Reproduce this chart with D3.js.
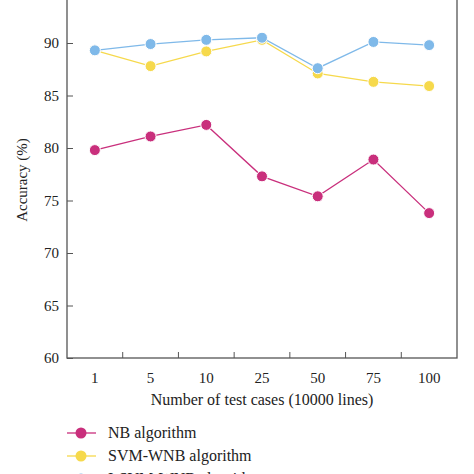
<!DOCTYPE html>
<html><head><meta charset="utf-8">
<script src="https://cdn.jsdelivr.net/npm/d3@7"></script>
<style>body{margin:0;background:#fff}text{font-family:"Liberation Serif",serif;fill:#222}</style>
</head><body>
<svg id="c" width="474" height="474"></svg>
<script>
const categories = ["1", "5", "10", "25", "50", "75", "100"];
const nbValues = [79.8, 81.1, 82.2, 77.3, 75.4, 78.9, 73.8];
const svmValues = [89.3, 87.8, 89.2, 90.3, 87.1, 86.3, 85.9];
const isvmValues = [89.3, 89.9, 90.3, 90.5, 87.6, 90.1, 89.8];
const yTicks = [60, 65, 70, 75, 80, 85, 90];
const series = [
  {name: "NB algorithm", values: nbValues, color: "#c92f7c"},
  {name: "SVM-WNB algorithm", values: svmValues, color: "#f6d94c"},
  {name: "I-SVM-WNB algorithm", values: isvmValues, color: "#7fb9e9"}
];

const mLeft = 67, mRight = 457, mTop = -10, mBottom = 358;
const svg = d3.select("#c");
const x = d3.scaleBand().domain(categories).range([mLeft, mRight]);
const y = d3.scaleLinear().domain([60, 95]).range([mBottom, mBottom - 35 * 10.5]);

svg.append("rect").attr("x", mLeft).attr("y", mTop).attr("width", mRight - mLeft).attr("height", mBottom - mTop)
  .attr("fill", "none").attr("stroke", "#555").attr("stroke-width", 1.3);

const ya = svg.append("g").attr("transform", `translate(${mLeft},0)`)
  .call(d3.axisLeft(y).tickValues(yTicks).tickSize(-6).tickPadding(8));
ya.select(".domain").remove();
ya.selectAll("line").attr("stroke", "#555");
ya.selectAll("text").style("font-size", "15px").style("font-family", "Liberation Serif");

const xa = svg.append("g").attr("transform", `translate(0,${mBottom})`)
  .call(d3.axisBottom(x).tickSize(0).tickPadding(14));
xa.select(".domain").remove();
xa.selectAll("text").style("font-size", "15px").style("font-family", "Liberation Serif");
svg.selectAll(".sep").data(categories.slice(1)).join("line")
  .attr("x1", d => x(d)).attr("x2", d => x(d)).attr("y1", mBottom).attr("y2", mBottom - 6)
  .attr("stroke", "#555");

svg.append("text").attr("x", (mLeft + mRight) / 2).attr("y", 405).attr("text-anchor", "middle")
  .style("font-size", "16px").text("Number of test cases (10000 lines)");
svg.append("text").attr("transform", `translate(27,180) rotate(-90)`).attr("text-anchor", "middle")
  .style("font-size", "15px").text("Accuracy (%)");

const line = d3.line().x((d, i) => x(categories[i]) + x.bandwidth() / 2).y(d => y(d));
series.forEach(s => {
  svg.append("path").attr("d", line(s.values)).attr("fill", "none").attr("stroke", s.color).attr("stroke-width", 1.3);
  svg.selectAll(null).data(s.values).join("circle")
    .attr("cx", (d, i) => x(categories[i]) + x.bandwidth() / 2).attr("cy", d => y(d))
    .attr("r", 5.5).attr("fill", s.color).attr("stroke", "#fff").attr("stroke-width", 1);
});

series.forEach((s, i) => {
  const yy = 433 + i * 23;
  svg.append("line").attr("x1", 67).attr("x2", 96).attr("y1", yy).attr("y2", yy).attr("stroke", s.color).attr("stroke-width", 1.3);
  svg.append("circle").attr("cx", 81).attr("cy", yy).attr("r", 5.5).attr("fill", s.color);
  svg.append("text").attr("x", 108).attr("y", yy + 5).style("font-size", "16px").text(s.name);
});
</script>
</body></html>
